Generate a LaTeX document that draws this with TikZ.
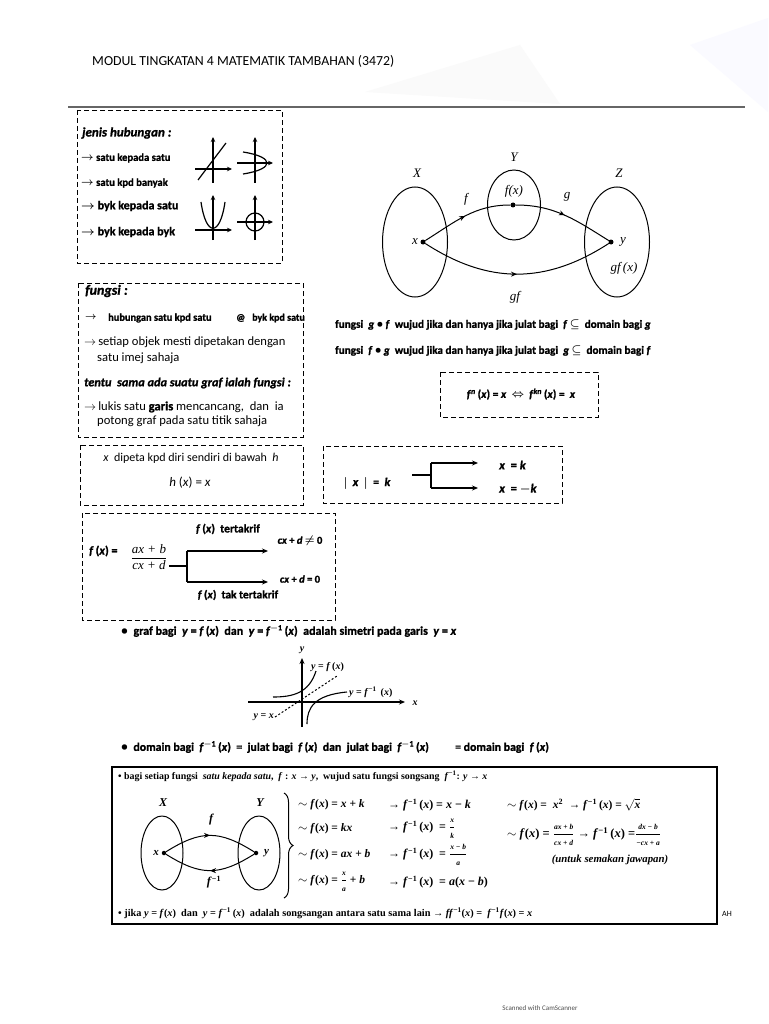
\documentclass[tikz,border=0pt]{standalone}
\usepackage{fontspec}
\setmainfont{Carlito}[BoldFeatures={FakeBold=1.2},BoldItalicFeatures={FakeBold=1.2}]
\newfontfamily\tms{Liberation Serif}
\usetikzlibrary{arrows.meta,shapes.geometric,decorations.markings,decorations.pathreplacing}
\newcommand\mi[1]{\textit{#1}}
\newcommand\fs[1]{\fontsize{#1}{#1}\selectfont}
\newcommand\finv{\mi{f}\textsuperscript{$-$1}}
\newcommand\tfinv{\textit{f}\textsuperscript{−1}}
\newcommand\sfr[2]{$\displaystyle\frac{\mbox{\tms\bfseries\itshape\fs{7.5}#1}}{\mbox{\tms\bfseries\itshape\fs{7.5}#2}}$}
\begin{document}
\begin{tikzpicture}[x=1pt,y=-1pt,
  T/.style={anchor=west, inner sep=0pt},
  C/.style={inner sep=0pt},
  bft/.style={font=\bfseries\boldmath\fs{#1}},
  bfi/.style={font=\bfseries\itshape\boldmath\fs{#1}},
  rg/.style={font=\fs{#1}},
  tl/.style={font=\tms\itshape\fs{#1}},
  tb/.style={font=\tms\bfseries\fs{#1}},
  dbox/.style={draw, line width=0.9pt, dash pattern=on 5pt off 3pt},
  axarr/.style={line width=1.2pt, -{Stealth[length=5pt,width=4.5pt]}},
  icon/.style={line width=1.2pt},
  ell/.style={draw, ellipse, line width=1pt, inner sep=0pt},
  dot/.style={circle, fill, inner sep=0pt, minimum size=5pt},
  curve/.style={line width=1pt},
  brarr/.style={line width=1.1pt, -{Stealth[length=6pt,width=5pt]}},
  midarrow/.style={postaction={decorate,decoration={markings,mark=at position 0.5 with {\arrow{Stealth[length=6pt,width=5pt]}}}}}
]
\useasboundingbox (0,0) rectangle (768,1024);
\fill[white] (0,0) rectangle (768,1024);
% faint watermark shapes
\fill[blue!2] (690,45) -- (768,18) -- (768,112) -- cycle;
\fill[black!2] (365,92) -- (520,45) -- (560,104) -- cycle;

% header
\node[T, rg=13.8] (hdr) at (92,61) {MODUL TINGKATAN 4 MATEMATIK TAMBAHAN (3472)};
\draw[line width=1.2pt, black!60] (68,107) -- (745,107);

% ---------- box 1 : jenis hubungan
\draw[dbox] (77,110) rectangle (282,263);
\node[T, bfi=13] (jh) at (82,133) {jenis hubungan :};
\node[T, bft=10.6] (r1) at (81,158) {$\rightarrow$ satu kepada satu};
\node[T, bft=10.6] (r2) at (81,183) {$\rightarrow$ satu kpd banyak};
\node[T, bft=12] (r3) at (81,206) {$\rightarrow$ byk kepada satu};
\node[T, bft=12] (r4) at (81,232) {$\rightarrow$ byk kepada byk};
% icon 1
\draw[axarr] (213,183) -- (213,137);
\draw[axarr] (195,169) -- (232,169);
\draw[icon] (198,180) -- (226,143);
% icon 2
\draw[axarr] (255,183) -- (255,137);
\draw[axarr] (237,163) -- (273,163);
\draw[icon] (243,152) .. controls (275,157) and (275,169) .. (243,174);
% icon 3
\draw[axarr] (213,240) -- (213,195);
\draw[axarr] (195,230) -- (232,230);
\draw[icon] (201,202) .. controls (206,237) and (220,237) .. (225,202);
% icon 4
\draw[axarr] (255,240) -- (255,195);
\draw[axarr] (237,222) -- (273,222);
\draw[icon] (255,222) circle[radius=9pt];

% ---------- composite function diagram
\node[ell, minimum width=65pt, minimum height=110pt] (eX) at (415,242) {};
\node[ell, minimum width=53pt, minimum height=70pt] (eY) at (514,205) {};
\node[ell, minimum width=65pt, minimum height=110pt] (eZ) at (617,242) {};
\node[C, tl=13] (lX) at (417,173) {X};
\node[C, tl=13] (lY) at (514,157) {Y};
\node[C, tl=13] (lZ) at (619,173) {Z};
\node[dot] (px) at (423,242) {};
\node[dot] (pf) at (513,205) {};
\node[dot] (py) at (611,242) {};
\draw[curve, midarrow] (px) to[out=32, in=180] (pf);
\draw[curve, midarrow] (pf) to[out=0, in=148] (py);
\draw[curve, midarrow] (px) to[out=-33, in=-147, looseness=1.05] (py);
\node[C, tl=13, anchor=east] (lx) at (418,242) {x};
\node[C, tl=13] (lfx) at (514,191) {f({\itshape x})};
\node[C, tl=13, anchor=west] (ly) at (620,242) {y};
\node[C, tl=13] (lgfx) at (624,268) {gf\,({\itshape x})};
\node[C, tl=13] (lf) at (466,199) {f};
\node[C, tl=13] (lg) at (567,197) {g};
\node[C, tl=13] (lgf) at (515,297) {gf};

\node[T, bft=11.2] (t1) at (335,325) {fungsi \ \mi{g} $\bullet$ \mi{f} \ wujud jika dan hanya jika julat bagi \ \mi{f} $\subseteq$ \ domain bagi \mi{g}};
\node[T, bft=11.2] (t2) at (335,351) {fungsi \ \mi{f} $\bullet$ \mi{g} \ wujud jika dan hanya jika julat bagi \ \mi{g} $\subseteq$ \ domain bagi \mi{f}};

\draw[dbox] (440,372) rectangle (598,417);
\node[C, bft=11.4] (fn) at (521,394) {\mi{f}\textsuperscript{\mi{n}}\,(\mi{x}) = \mi{x} \ $\Leftrightarrow$ \ \mi{f}\textsuperscript{\mi{kn}}\,(\mi{x}) = \ \mi{x}};

% ---------- box 2 : fungsi
\draw[dbox] (78,283) rectangle (303,437);
\node[T, bfi=14] (fg) at (85,291) {fungsi :};
\node[T, bft=10] (a1) at (85,318) {$\rightarrow$};
\node[T, bft=10.4] (a2) at (108,318) {hubungan satu kpd satu};
\node[T, bft=10] (a3) at (236,318) {@};
\node[T, bft=10] (a4) at (252,318) {byk kpd satu};
\node[T, rg=12.6] (s1) at (84,342) {$\rightarrow$\,setiap objek mesti dipetakan dengan};
\node[T, rg=12.6] (s2) at (97,358) {satu imej sahaja};
\node[T, bfi=12.3] (s3) at (84,383) {tentu \ sama ada suatu graf ialah fungsi :};
\node[T, rg=12.6] (s4) at (84,407) {$\rightarrow$\,lukis satu \textbf{garis} mencancang, \ dan \ ia};
\node[T, rg=12.6] (s5) at (97,421) {potong graf pada satu titik sahaja};

% ---------- box : x dipeta
\draw[dbox] (80,445) rectangle (303,505);
\node[C, rg=12] (xd) at (191,458) {\mi{x} \ dipeta kpd diri sendiri di bawah \ \mi{h}};
\node[C, rg=13] (hx) at (190,483) {\mi{h} (\mi{x}) = \mi{x}};

% ---------- box : |x| = k
\draw[dbox] (323,446) rectangle (562,503);
\node[C, bft=12] (absk) at (367,483) {$|$ \ \mi{x} \ $|$ \ = \ \mi{k}};
\coordinate (b1) at (412,475);
\coordinate (b2) at (431,475);
\coordinate (e1) at (478,463);
\coordinate (e2) at (478,488);
\draw[line width=1.1pt] (b1) -- (b2);
\draw[line width=1.1pt] (b2|-e1) -- (b2|-e2);
\draw[brarr] (b2|-e1) -- (e1);
\draw[brarr] (b2|-e2) -- (e2);
\node[T, bft=12.5] (xk) at (499,465) {\mi{x} \ = \mi{k}};
\node[T, bft=12.5] (xmk) at (499,489) {\mi{x} \ = $-$\mi{k}};

% ---------- box : f(x) = (ax+b)/(cx+d)
\draw[dbox] (82,513) rectangle (335,620);
\node[T, bft=12] (fxe) at (89,551) {\mi{f}\,(\mi{x}) =};
\node[C, font=\tms\itshape\fs{13}] (frac) at (149,557) {$\displaystyle\frac{\mbox{\tms\itshape ax + b}}{\mbox{\tms\itshape cx + d}}$};
\coordinate (c1) at (169,566);
\coordinate (c2) at (187,566);
\coordinate (g1) at (268,551);
\coordinate (g2) at (268,582);
\draw[line width=1.1pt] (c1) -- (c2);
\draw[line width=1.1pt] (c2|-g1) -- (c2|-g2);
\draw[brarr] (c2|-g1) -- (g1);
\draw[brarr] (c2|-g2) -- (g2);
\node[C, bft=11.6] (tk) at (228,529) {\mi{f}\,(\mi{x}) \ tertakrif};
\node[C, bft=10.5] (cn) at (300,541) {\mi{cx} + \mi{d} $\neq$ 0};
\node[C, bft=10.5] (ce) at (300,579) {\mi{cx} + \mi{d} = 0};
\node[C, bft=11.4] (ttk) at (238,595) {\mi{f}\,(\mi{x}) \ tak tertakrif};

% ---------- bullet 1 and graph
\node[T, bft=12] (bl1) at (121,631) {$\bullet$ \ graf bagi \ \mi{y} = \mi{f}\,(\mi{x}) \ dan \ \mi{y} = \finv\,(\mi{x}) \ adalah simetri pada garis \ \mi{y} = \mi{x}};
\draw[line width=1.2pt, -{Stealth[length=6pt,width=5pt]}] (302,727) -- (302,658);
\draw[line width=1.2pt, -{Stealth[length=6pt,width=5pt]}] (248,702) -- (405,702);
\draw[line width=1.1pt] (273,697) .. controls (293,697) and (309,693) .. (316,671);
\draw[line width=1.1pt] (307,724) .. controls (307,708) and (314,695) .. (347,692);
\draw[line width=1pt, dash pattern=on 2pt off 2pt] (275,717) -- (337,676);
\node[C, font=\tms\bfseries\itshape\fs{10}] (gy) at (302,650) {y};
\node[C, font=\tms\bfseries\itshape\fs{10}] (gx) at (415,703) {x};
\node[T, font=\tms\bfseries\fs{10}] (gf1) at (311,667) {\textit{y} = \textit{f}\,(\textit{x})};
\node[T, font=\tms\bfseries\fs{10}] (gf2) at (349,692) {\textit{y} = \tfinv\, (\textit{x})};
\node[C, font=\tms\bfseries\fs{10}, anchor=east] (gyx) at (274,717) {\textit{y} = \textit{x}};

\node[T, bft=11.8] (bl2) at (121,747) {$\bullet$ \ domain bagi \ \finv\,(\mi{x}) \ = \ julat bagi \ \mi{f}\,(\mi{x}) \ dan \ julat bagi \ \finv\,(\mi{x}) \qquad = domain bagi \ \mi{f}\,(\mi{x})};

% ---------- bottom box
\draw[line width=1.2pt] (112,767) rectangle (717,924);
\node[T, tb=9.9] (bb1) at (118,776) {• bagi setiap fungsi \ \textit{satu kepada satu}, \ \textit{f} : \textit{x} → \textit{y}, \ wujud satu fungsi songsang \ \tfinv : \textit{y} → \textit{x}};
\node[ell, minimum width=42pt, minimum height=74pt] (bX) at (162,853) {};
\node[ell, minimum width=42pt, minimum height=74pt] (bY) at (259,853) {};
\node[C, font=\tms\bfseries\itshape\fs{12}] (lbX) at (163,803) {X};
\node[C, font=\tms\bfseries\itshape\fs{12}] (lbY) at (260,803) {Y};
\node[dot, minimum size=4.5pt] (qx) at (164,853) {};
\node[dot, minimum size=4.5pt] (qy) at (256,853) {};
\draw[curve, midarrow] (qx) to[out=32, in=148, looseness=1.2] (qy);
\draw[curve, midarrow] (qy) to[out=-148, in=-32, looseness=1.2] (qx);
\node[C, font=\tms\bfseries\itshape\fs{11}, anchor=east] (lqx) at (159,853) {x};
\node[C, font=\tms\bfseries\itshape\fs{11}, anchor=west] (lqy) at (264,853) {y};
\node[C, font=\tms\bfseries\itshape\fs{12}] (lbf) at (211,820) {f};
\node[C, font=\tms\bfseries\fs{12}] (lbfi) at (214,882) {\tfinv};
\draw[line width=1pt, decorate, decoration={brace, amplitude=9pt}] (284,793) -- (284,898);

\node[T, tb=11.5] (ra1) at (298,805) {$\sim$ \textit{f}(\textit{x}) = \textit{x} + \textit{k}};
\node[T, tb=11.5] (ra2) at (298,829) {$\sim$ \textit{f}(\textit{x}) = \textit{kx}};
\node[T, tb=11.5] (ra3) at (298,855) {$\sim$ \textit{f}(\textit{x}) = \textit{ax} + \textit{b}};
\node[T, tb=11.5] (ra4) at (298,882) {$\sim$ \textit{f}(\textit{x}) = \sfr{x}{a} + \textit{b}};
\node[T, tb=12] (rb1) at (388,805) {→ \tfinv\,(\textit{x}) = \textit{x} − \textit{k}};
\node[T, tb=12] (rb2) at (388,829) {→ \tfinv\,(\textit{x}) \ = \sfr{x}{k}};
\node[T, tb=12] (rb3) at (388,855) {→ \tfinv\,(\textit{x}) \ = \sfr{x − b}{a}};
\node[T, tb=12] (rb4) at (388,882) {→ \tfinv\,(\textit{x}) \ = \textit{a}(\textit{x} − \textit{b})};

\node[T, tb=11.5] (rc1) at (507,805) {$\sim$ \textit{f}(\textit{x}) = \ \textit{x}\textsuperscript{2} \ → \tfinv\,(\textit{x}) = $\sqrt{\mbox{\tms\bfseries\itshape x}}$};
\node[T, tb=12.5] (rc2) at (507,835) {$\sim$ \textit{f}(\textit{x}) = \sfr{ax + b}{cx + d} → \tfinv\,(\textit{x}) =\sfr{dx − b}{−cx + a}};
\node[C, font=\tms\bfseries\itshape\fs{10.8}] (rc3) at (610,860) {(untuk semakan jawapan)};

\node[T, tb=10.3] (bb2) at (118,913) {• jika \textit{y} = \textit{f}(\textit{x}) \ dan \ \textit{y} = \tfinv\,(\textit{x}) \ adalah songsangan antara satu sama lain → \textit{ff}\textsuperscript{−1}(\textit{x}) = \ \tfinv\textit{f}(\textit{x}) = \textit{x}};
\node[C, rg=8] (ah) at (727,914) {AH};

\node[C, font=\fs{7}, text=black!70] (cs) at (540,1008) {Scanned with CamScanner};
\end{tikzpicture}
\end{document}
